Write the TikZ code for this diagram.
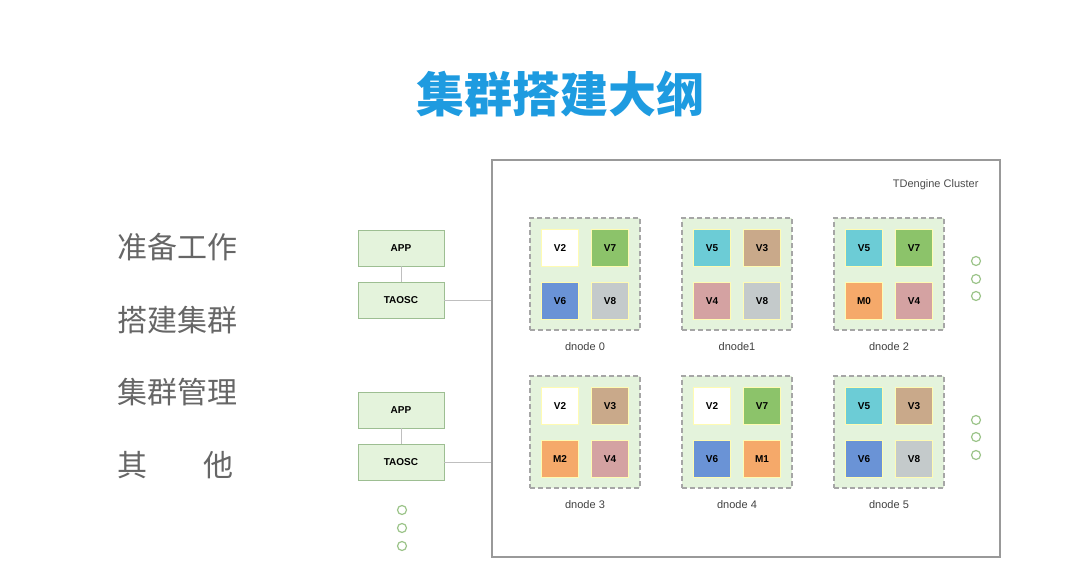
\documentclass[tikz,border=0pt]{standalone}
\usepackage{fontspec}
\setmainfont{Liberation Sans}
\newfontfamily\cjk{Noto Sans CJK SC}
\begin{document}
\begin{tikzpicture}[x=1pt,y=-1pt,
  cell/.style={draw=yellow!30!white,line width=1.2pt,minimum size=37pt,inner sep=0pt,font=\bfseries\fontsize{10}{12}\selectfont},
  dn/.style={draw=gray!70,dash pattern=on 5pt off 3pt,line width=1.4pt,fill=bgG,minimum width=110pt,minimum height=112pt,inner sep=0pt},
  gbox/.style={draw=boxB,line width=0.8pt,fill=bgG,minimum width=86pt,minimum height=36pt,inner sep=0pt,font=\bfseries\fontsize{10}{12}\selectfont},
  dot/.style={circle,draw=dotG,line width=1.2pt,minimum size=9pt,inner sep=0pt},
  menu/.style={anchor=west,font=\cjk\fontsize{30}{32}\selectfont,text=black!60},
  lab/.style={font=\fontsize{11}{13}\selectfont,text=black!75}]
\definecolor{cG}{HTML}{8CC36A}\definecolor{cB}{HTML}{6A93D6}\definecolor{cS}{HTML}{C4CACB}
\definecolor{cC}{HTML}{6CCCD6}\definecolor{cT}{HTML}{C9A98A}\definecolor{cP}{HTML}{D4A2A2}
\definecolor{cO}{HTML}{F5A96A}\definecolor{cW}{HTML}{FFFFFF}\definecolor{tb}{HTML}{1E9BE0}
\definecolor{bgG}{HTML}{E4F3DC}\definecolor{boxB}{HTML}{9DBE92}\definecolor{dotG}{HTML}{9CC48A}
\useasboundingbox (0,0) rectangle (1076,580);
\node[font=\cjk\bfseries\fontsize{48}{52}\selectfont,text=tb] (title) at (560,94) {集群搭建大纲};
\node[menu] (m1) at (114,247) {准备工作};
\node[menu] (m2) at (114,320) {搭建集群};
\node[menu] (m3) at (114,392) {集群管理};
\node[menu] (m4) at (114,465) {其\hspace{56pt}他};
\node[draw=gray!80,line width=1.2pt,minimum width=508pt,minimum height=397pt,inner sep=0pt] (cl) at (746,358.5) {};
\node[anchor=east,font=\fontsize{11}{13}\selectfont,text=black!70] (ct) at (982,185) {TDengine Cluster};
\foreach \n/\x/\y/\a/\ca/\b/\cb/\c/\cc/\d/\cd/\l in {
  0/585/274/V2/cW/V7/cG/V6/cB/V8/cS/dnode 0,
  1/737/274/V5/cC/V3/cT/V4/cP/V8/cS/dnode1,
  2/889/274/V5/cC/V7/cG/M0/cO/V4/cP/dnode 2,
  3/585/432/V2/cW/V3/cT/M2/cO/V4/cP/dnode 3,
  4/737/432/V2/cW/V7/cG/V6/cB/M1/cO/dnode 4,
  5/889/432/V5/cC/V3/cT/V6/cB/V8/cS/dnode 5}{
  \node[dn] (d\n) at (\x,\y) {};
  \node[cell,fill=\ca] (d\n a) at (\x-25,\y-26) {\a};
  \node[cell,fill=\cb] (d\n b) at (\x+25,\y-26) {\b};
  \node[cell,fill=\cc] (d\n c) at (\x-25,\y+27) {\c};
  \node[cell,fill=\cd] (d\n d) at (\x+25,\y+27) {\d};
  \node[lab] (l\n) at (\x,\y+73) {\l};
}
\node[gbox] (app1) at (401,248) {APP};
\node[gbox] (tc1) at (401,300) {TAOSC};
\node[gbox] (app2) at (401,410) {APP};
\node[gbox] (tc2) at (401,462) {TAOSC};
\draw[gray!50] (app1) -- (tc1); \draw[gray!50] (app2) -- (tc2);
\draw[gray!50] (tc1.east) -- (tc1.east -| cl.west);
\draw[gray!50] (tc2.east) -- (tc2.east -| cl.west);
\foreach \i/\x/\y in {1/402/510,2/402/528,3/402/546,4/976/261,5/976/279,6/976/296,7/976/420,8/976/437,9/976/455}
  \node[dot] (o\i) at (\x,\y) {};
\end{tikzpicture}
\end{document}
